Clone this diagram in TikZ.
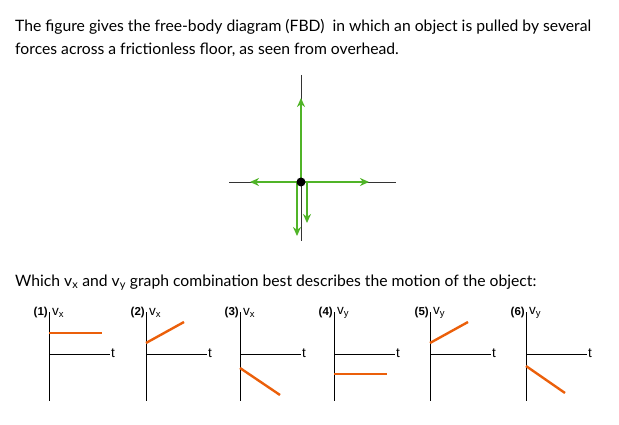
\documentclass[tikz,border=0pt]{standalone}
\usepackage{fontspec}
\usetikzlibrary{arrows.meta}
\setmainfont{Lato}
\setsansfont{Liberation Sans}
\definecolor{fgreen}{RGB}{80,180,40}
\definecolor{gorange}{RGB}{235,95,10}
\begin{document}
\begin{tikzpicture}[x=1pt,y=-1pt,
  force/.style={draw=fgreen, line width=1.6pt, -{Stealth[length=9pt,width=8pt]}},
  axisline/.style={draw=black, line width=0.7pt},
  ref/.style={draw=black!80, line width=0.8pt},
  curve/.style={draw=gorange, line width=2.4pt},
  txt/.style={anchor=west, inner sep=0pt, font=\fontsize{15.7pt}{18pt}\selectfont},
  lab/.style={inner sep=0pt, font=\sffamily\fontsize{11.5pt}{13pt}\selectfont},
  tl/.style={inner sep=0pt, font=\sffamily\fontsize{13.5pt}{15pt}\selectfont, anchor=west}]
\useasboundingbox (0,0) rectangle (619,425);
\node[txt] (t1) at (15,27) {The figure gives the free-body diagram (FBD) \ in which an object is pulled by several};
\node[txt] (t2) at (15,50) {forces across a frictionless floor, as seen from overhead.};
\node[txt] (t3) at (15,283) {Which v$_\mathrm{x}$ and v$_\mathrm{y}$ graph combination best describes the motion of the object:};
% FBD
\coordinate (c) at (301,182);
\coordinate (vt) at (301,75); \coordinate (vb) at (301,241);
\coordinate (hl) at (229,182); \coordinate (hr) at (396,182);
\draw[ref] (vt) -- (vb); \draw[ref] (hl) -- (hr);
\coordinate (up) at (301,98); \coordinate (lf) at (250,182); \coordinate (rt) at (369,182);
\coordinate (d1s) at (297,182); \coordinate (d1) at (297,236);
\coordinate (d2s) at (307,182); \coordinate (d2) at (307,223);
\draw[force] (c) -- (up);
\draw[force] (c) -- (lf);
\draw[force] (c) -- (rt);
\draw[force] (d1s) -- (d1);
\draw[force] (d2s) -- (d2);
\node[circle, fill=black, inner sep=0pt, minimum size=9pt] (obj) at (c) {};
% graphs
\foreach \n/\ax/\sub in {1/49/x,2/146/x,3/240/x,4/334/y,5/430/y,6/526/y}{
  \coordinate (top\n) at (\ax,312); \coordinate (bot\n) at (\ax,401);
  \coordinate (o\n) at (\ax,354); \coordinate (te\n) at (\ax+61,354);
  \draw[axisline] (top\n) -- (bot\n);
  \draw[axisline] (o\n) -- (te\n);
  \node[tl] (tt\n) at (\ax+62,353) {t};
  \node[lab, anchor=east] (num\n) at (\ax-1,313) {\textbf{(\n)}};
  \node[lab, anchor=west] (vl\n) at (\ax+3,313) {\fontsize{13.5pt}{15pt}\selectfont v\raisebox{-2pt}{\fontsize{9.5pt}{10pt}\selectfont \sub}};
}
\draw[curve] (49,333) -- (102,333);
\draw[curve] (146,343) -- (184,322);
\draw[curve] (240,368) -- (280,395);
\draw[curve] (334,374) -- (387,374);
\draw[curve] (430,343) -- (468,322);
\draw[curve] (526,366) -- (565,393);
\end{tikzpicture}
\end{document}
